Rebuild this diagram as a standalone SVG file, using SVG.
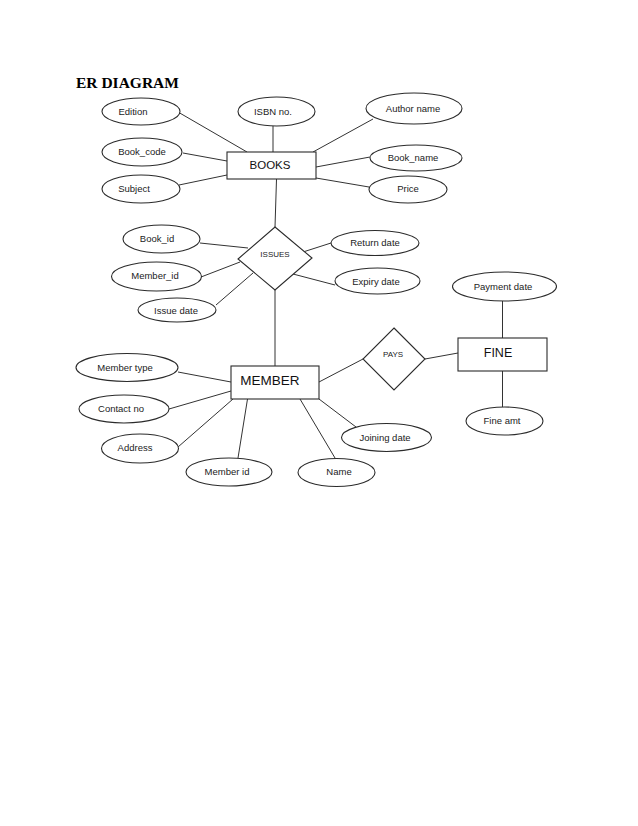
<svg xmlns="http://www.w3.org/2000/svg" width="638" height="826" viewBox="0 0 638 826">
<style>
.bg{fill:#ffffff}
.shape{fill:#ffffff;stroke:#2b2b2b;stroke-width:1.1}
.conn line{stroke:#333333;stroke-width:1}
.lbl{font-family:"Liberation Sans",Arial,sans-serif;font-size:9.5px;fill:#222222;text-anchor:middle}
.ent{font-family:"Liberation Sans",Arial,sans-serif;fill:#111111;text-anchor:middle}
.rel{font-family:"Liberation Sans",Arial,sans-serif;font-size:8px;fill:#222222;text-anchor:middle}
.title{font-family:"Liberation Serif","Times New Roman",serif;font-weight:bold;font-size:15.5px;fill:#000000}
</style>
<rect class="bg" x="0" y="0" width="638" height="826"/>
<text class="title" x="76" y="88">ER DIAGRAM</text>

<g id="connectors" class="conn">
  <line x1="178" y1="112" x2="247" y2="152"/>
  <line x1="273" y1="126" x2="273" y2="152"/>
  <line x1="373" y1="119" x2="313" y2="152"/>
  <line x1="183" y1="153" x2="227" y2="161"/>
  <line x1="179" y1="185" x2="227" y2="175"/>
  <line x1="370" y1="157" x2="316" y2="167"/>
  <line x1="369" y1="187" x2="316" y2="178"/>
  <line x1="276.5" y1="179" x2="275" y2="227"/>
  <line x1="200" y1="243" x2="248" y2="248"/>
  <line x1="201" y1="277" x2="240" y2="262"/>
  <line x1="216" y1="305" x2="253" y2="273"/>
  <line x1="331" y1="243" x2="303" y2="252"/>
  <line x1="335" y1="285" x2="293" y2="274"/>
  <line x1="275" y1="290" x2="275" y2="366"/>
  <line x1="502.5" y1="301" x2="502.5" y2="338"/>
  <line x1="178" y1="372" x2="231" y2="382"/>
  <line x1="169" y1="409" x2="231" y2="391"/>
  <line x1="178" y1="447" x2="233" y2="399"/>
  <line x1="238" y1="458" x2="247.5" y2="399"/>
  <line x1="335" y1="458" x2="300" y2="399"/>
  <line x1="356" y1="427" x2="319" y2="399"/>
  <line x1="319" y1="382" x2="363" y2="359"/>
  <line x1="425" y1="359" x2="458" y2="353"/>
  <line x1="502.5" y1="371" x2="502.5" y2="407"/>
</g>

<g id="books"><rect class="shape" x="227" y="152" width="89" height="27"/><text class="ent" x="270" y="169" font-size="11.5">BOOKS</text></g>
<g id="member"><rect class="shape" x="231" y="366" width="88" height="33"/><text class="ent" x="270" y="385" font-size="13.5">MEMBER</text></g>
<g id="fine"><rect class="shape" x="458" y="338" width="89" height="33"/><text class="ent" x="498" y="357" font-size="12.5">FINE</text></g>

<g id="issues"><polygon class="shape" points="275,227 312,258 275,290 238,259"/><text class="rel" x="275" y="256.5">ISSUES</text></g>
<g id="pays"><polygon class="shape" points="394,328 425,359 394,390 363,359"/><text class="rel" x="393" y="356.5">PAYS</text></g>

<g id="edition"><ellipse class="shape" cx="141" cy="111.5" rx="39" ry="13.5"/><text class="lbl" x="133" y="115">Edition</text></g>
<g id="isbn"><ellipse class="shape" cx="276.5" cy="111.5" rx="38.5" ry="14.5"/><text class="lbl" x="273" y="115">ISBN no.</text></g>
<g id="author-name"><ellipse class="shape" cx="414" cy="108.5" rx="48" ry="15.5"/><text class="lbl" x="413" y="111.5">Author name</text></g>
<g id="book-code"><ellipse class="shape" cx="142" cy="152" rx="40" ry="14"/><text class="lbl" x="142" y="155">Book_code</text></g>
<g id="book-name"><ellipse class="shape" cx="416" cy="158" rx="46" ry="13"/><text class="lbl" x="413" y="160.5">Book_name</text></g>
<g id="subject"><ellipse class="shape" cx="141" cy="189" rx="39" ry="14"/><text class="lbl" x="134" y="192">Subject</text></g>
<g id="price"><ellipse class="shape" cx="408" cy="189.5" rx="39" ry="13.5"/><text class="lbl" x="408" y="192">Price</text></g>

<g id="book-id"><ellipse class="shape" cx="161.5" cy="239" rx="38.5" ry="14"/><text class="lbl" x="157" y="242">Book_id</text></g>
<g id="member-id-attr"><ellipse class="shape" cx="156.5" cy="276.5" rx="45" ry="14.5"/><text class="lbl" x="155" y="279">Member_id</text></g>
<g id="issue-date"><ellipse class="shape" cx="177" cy="310" rx="39" ry="12"/><text class="lbl" x="176" y="313.5">Issue date</text></g>
<g id="return-date"><ellipse class="shape" cx="375" cy="243" rx="44" ry="12.5"/><text class="lbl" x="375" y="246">Return date</text></g>
<g id="expiry-date"><ellipse class="shape" cx="377.5" cy="281" rx="42.5" ry="13"/><text class="lbl" x="376" y="284.5">Expiry date</text></g>
<g id="payment-date"><ellipse class="shape" cx="504.5" cy="286.5" rx="52" ry="14.5"/><text class="lbl" x="503" y="289.5">Payment date</text></g>

<g id="member-type"><ellipse class="shape" cx="127" cy="367.5" rx="51" ry="14"/><text class="lbl" x="125" y="370.5">Member type</text></g>
<g id="contact-no"><ellipse class="shape" cx="124" cy="409" rx="45" ry="14"/><text class="lbl" x="121" y="412">Contact no</text></g>
<g id="address"><ellipse class="shape" cx="140" cy="448.5" rx="38.5" ry="14.5"/><text class="lbl" x="135" y="451">Address</text></g>
<g id="member-id"><ellipse class="shape" cx="229" cy="472" rx="43" ry="14"/><text class="lbl" x="227" y="475">Member id</text></g>
<g id="name"><ellipse class="shape" cx="336.5" cy="472.5" rx="38.5" ry="14"/><text class="lbl" x="339" y="475">Name</text></g>
<g id="joining-date"><ellipse class="shape" cx="386.5" cy="437.5" rx="45" ry="14"/><text class="lbl" x="385" y="440.5">Joining date</text></g>
<g id="fine-amt"><ellipse class="shape" cx="504.5" cy="421" rx="38.5" ry="14"/><text class="lbl" x="502" y="424">Fine amt</text></g>
</svg>
